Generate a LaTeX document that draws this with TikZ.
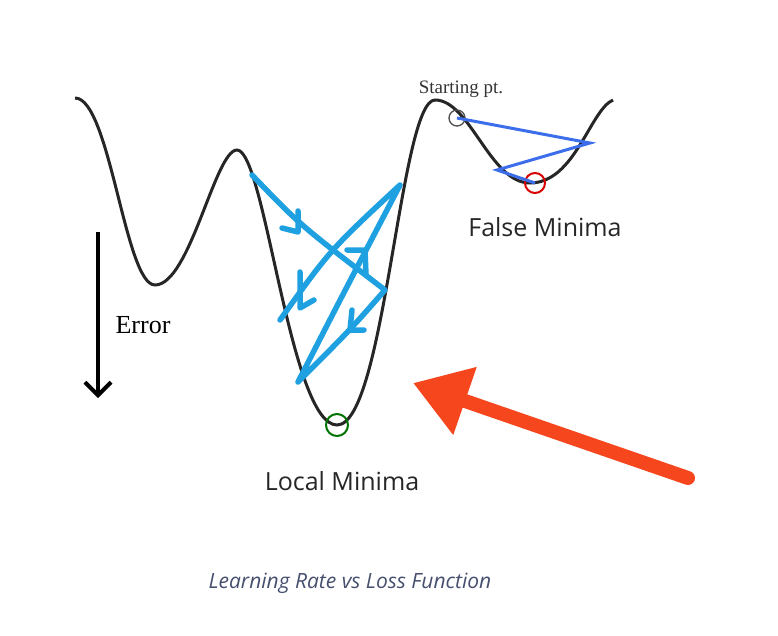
\documentclass[tikz,border=0pt]{standalone}
\usepackage{fontspec}
\setmainfont{Liberation Serif}
\newfontfamily\sansf{Open Sans}
\usetikzlibrary{arrows.meta}
\begin{document}
\begin{tikzpicture}[x=1pt,y=-1pt,
  curve/.style={line width=3pt,black!85},
  scrib/.style={line width=5.5pt,color={rgb,255:red,30;green,160;blue,225},line cap=round,line join=round},
  gdstep/.style={line width=3pt,color={rgb,255:red,60;green,110;blue,235}},
  lbl/.style={font=\sansf\fontsize{25}{30}\selectfont,text=black!85}]
\useasboundingbox (0,0) rectangle (778,636);
\coordinate (c0) at (75,98);
\draw[curve] (c0) .. controls (110,98) and (125,285) .. (155,285)
  .. controls (190,285) and (215,150) .. (237,150)
  .. controls (265,150) and (290,425) .. (337,425)
  .. controls (385,425) and (400,100) .. (435,100)
  .. controls (470,100) and (490,183) .. (530,183)
  .. controls (575,183) and (590,110) .. (613,100);
% scribbles
\coordinate (s1) at (252,175);
\coordinate (s2) at (385,290);
\coordinate (s3) at (298,382);
\coordinate (s4) at (400,185);
\coordinate (s5) at (280,320);
\draw[scrib] (s1) .. controls (300,225) .. (s2)
  .. controls (350,330) .. (s3)
  .. controls (340,300) .. (s4)
  .. controls (330,250) .. (s5);
\draw[scrib] (298,211) -- (298,232) -- (282,228);
\draw[scrib] (300,272) -- (300,308) -- (314,300);
\draw[scrib] (347,250) -- (365,250) -- (366,275);
\draw[scrib] (352,310) -- (350,330) -- (364,330);
% false minima
\node[draw,circle,minimum size=16pt,inner sep=0,line width=1.3pt,black!70] (sp) at (457,118) {};
\node[draw,circle,minimum size=20pt,inner sep=0,line width=2pt,red!85!black] (fm) at (535,183) {};
\coordinate (b1) at (590,143);
\coordinate (b2) at (497,170);
\draw[gdstep] (sp.center) -- (b1) -- (b2) -- (fm.center);
\node[draw,circle,minimum size=22pt,inner sep=0,line width=2pt,green!45!black] (lm) at (337,425) {};
% labels
\node[font=\fontsize{19}{22}\selectfont,text=black!80] (st) at (461,89) {Starting pt.};
\node[lbl] (fl) at (545,227) {False Minima};
\node[lbl] (ll) at (342,481) {Local Minima};
\node[font=\fontsize{26}{30}\selectfont] (er) at (143,325) {Error};
\node[font=\sansf\itshape\fontsize{21}{25}\selectfont,text={rgb,255:red,70;green,80;blue,110}] (cap) at (350,583) {Learning Rate vs Loss Function};
% error arrow
\coordinate (e1) at (98,232);
\coordinate (e2) at (98,398);
\draw[line width=4pt,-{Straight Barb[length=13pt,width=26pt]}] (e1) -- (e2);
% red arrow
\coordinate (r1) at (688,478);
\coordinate (r2) at (413,383);
\draw[line width=14pt,line cap=round,color={rgb,255:red,245;green,70;blue,30},-{Triangle[length=55pt,width=68pt]}] (r1) -- (r2);
\end{tikzpicture}
\end{document}
